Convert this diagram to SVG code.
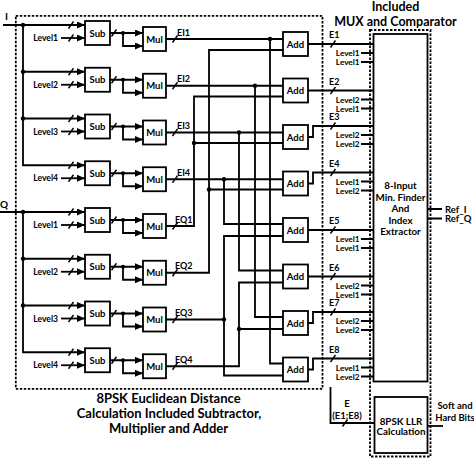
<svg xmlns="http://www.w3.org/2000/svg" width="474" height="458" viewBox="0 0 474 458">
<defs>
<style>
.ln{stroke:#000;stroke-width:1.8;fill:none}
.box{fill:#fff;stroke:#000;stroke-width:1.8}
.sl{stroke:#000;stroke-width:1.4}
.dt{fill:none;stroke:#000;stroke-width:1.8;stroke-dasharray:2.4 1.6}
.t{font-family:Lato,'Liberation Sans',sans-serif;font-weight:700;fill:#000}
.lv{font-size:8.6px;text-anchor:end}
.lr{font-size:8.2px;text-anchor:end}
.lb{font-size:9px;text-anchor:start}
.bx{font-size:9.5px;text-anchor:middle}
.big{font-size:9.8px;text-anchor:middle}
.cap{font-size:13px;text-anchor:middle}
.a{marker-end:url(#ah)}
</style>
<marker id="ah" viewBox="0 0 8 7" refX="8" refY="3.5" markerWidth="8" markerHeight="7" markerUnits="userSpaceOnUse" orient="auto"><path d="M0,0 L8,3.5 L0,7 z" fill="#000"/></marker>
</defs>
<rect width="474" height="458" fill="#fff"/>

<!-- dotted frames -->
<rect class="dt" x="15.8" y="15.8" width="306.7" height="373"/>
<rect class="dt" x="370" y="30" width="60.5" height="426.5"/>

<g id="connectors">
<!-- I bus -->
<path class="ln a" d="M3,25 H85"/>
<path class="ln a" d="M23,71.75 H85"/>
<path class="ln a" d="M23,118.5 H85"/>
<path class="ln a" d="M23,25 V165.25 H85"/>
<!-- Q bus -->
<path class="ln a" d="M0,212 H85"/>
<path class="ln a" d="M23,258.75 H85"/>
<path class="ln a" d="M23,305.5 H85"/>
<path class="ln a" d="M23,212 V352.25 H85"/>
<g fill="#000">
<circle cx="23" cy="25" r="2.2"/><circle cx="23" cy="71.75" r="2.2"/><circle cx="23" cy="118.5" r="2.2"/>
<circle cx="23" cy="212" r="2.2"/><circle cx="23" cy="258.75" r="2.2"/><circle cx="23" cy="305.5" r="2.2"/>
</g>
<!-- level inputs -->
<path class="ln a" d="M61,38 H85"/>
<path class="ln a" d="M61,84.75 H85"/>
<path class="ln a" d="M61,131.5 H85"/>
<path class="ln a" d="M61,178.25 H85"/>
<path class="ln a" d="M61,225 H85"/>
<path class="ln a" d="M61,271.75 H85"/>
<path class="ln a" d="M61,318.5 H85"/>
<path class="ln a" d="M61,365.25 H85"/>
<!-- Sub to Mul -->
<path class="ln a" d="M110,33 H143"/><path class="ln a" d="M123,33 V46 H143"/>
<path class="ln a" d="M110,79.75 H143"/><path class="ln a" d="M123,79.75 V92.75 H143"/>
<path class="ln a" d="M110,126.5 H143"/><path class="ln a" d="M123,126.5 V139.5 H143"/>
<path class="ln a" d="M110,173.25 H143"/><path class="ln a" d="M123,173.25 V186.25 H143"/>
<path class="ln a" d="M110,220 H143"/><path class="ln a" d="M123,220 V233 H143"/>
<path class="ln a" d="M110,266.75 H143"/><path class="ln a" d="M123,266.75 V279.75 H143"/>
<path class="ln a" d="M110,313.5 H143"/><path class="ln a" d="M123,313.5 V326.5 H143"/>
<path class="ln a" d="M110,360.25 H143"/><path class="ln a" d="M123,360.25 V373.25 H143"/>
<g fill="#000">
<circle cx="123" cy="33" r="2"/><circle cx="123" cy="79.75" r="2"/><circle cx="123" cy="126.5" r="2"/><circle cx="123" cy="173.25" r="2"/>
<circle cx="123" cy="220" r="2"/><circle cx="123" cy="266.75" r="2"/><circle cx="123" cy="313.5" r="2"/><circle cx="123" cy="360.25" r="2"/>
</g>
<!-- crossbar -->
<path class="ln" d="M166,39 H283"/><path class="ln" d="M270,39 V363.5 H283"/>
<path class="ln" d="M166,85.75 H283"/><path class="ln" d="M255,85.75 V317 H283"/>
<path class="ln" d="M166,132.5 H283"/><path class="ln" d="M239,132.5 V270.5 H283"/>
<path class="ln" d="M166,179.25 H283"/><path class="ln" d="M224,179.25 V224 H283"/>
<path class="ln" d="M166,226 H194 V96.5 H283"/><path class="ln" d="M194,143 H283"/>
<path class="ln" d="M166,272.75 H209 V50 H283"/><path class="ln" d="M209,189.5 H283"/>
<path class="ln" d="M166,319.5 H224"/><path class="ln" d="M283,236 H224 V375.5 H283"/>
<path class="ln" d="M166,366.25 H239 V282.5 H283"/><path class="ln" d="M239,329 H283"/>
<g fill="#000">
<circle cx="270" cy="39" r="2.2"/><circle cx="255" cy="85.75" r="2.2"/><circle cx="239" cy="132.5" r="2.2"/><circle cx="224" cy="179.25" r="2.2"/>
<circle cx="194" cy="143" r="2.2"/><circle cx="209" cy="189.5" r="2.2"/><circle cx="224" cy="319.5" r="2.2"/><circle cx="239" cy="329" r="2.2"/>
</g>
<!-- Add outputs -->
<path class="ln" d="M308,44 H373.5"/>
<path class="ln" d="M308,90.5 H373.5"/>
<path class="ln" d="M308,137 H313 V126 H373.5"/>
<path class="ln" d="M308,183.5 H313 V172.5 H373.5"/>
<path class="ln" d="M308,230 H373.5"/>
<path class="ln" d="M308,276.5 H373.5"/>
<path class="ln" d="M308,323 H313 V312 H373.5"/>
<path class="ln" d="M308,369.5 H313 V358.5 H373.5"/>
<!-- right level stubs -->
<path class="ln" d="M361,53 H373.5 M361,62 H373.5 M361,99.5 H373.5 M361,108.5 H373.5 M361,135 H373.5 M361,144 H373.5 M361,181.5 H373.5 M361,190.5 H373.5 M361,239 H373.5 M361,248 H373.5 M361,285.5 H373.5 M361,294.5 H373.5 M361,321 H373.5 M361,330 H373.5 M361,367.5 H373.5 M361,376.5 H373.5"/>
<!-- E bus to LLR -->
<path class="ln" d="M330.5,387 V423 H374.5"/>
<!-- outputs -->
<path class="ln" d="M427.5,209 H442 M427.5,218.5 H442"/>
<path class="ln" d="M428,426 H443"/>
<!-- slashes -->
<path class="sl" d="M68.5,28.5 L73.5,21.5 M68.5,41.5 L73.5,34.5 M111.5,36.5 L116.5,29.5 M172.5,42.5 L177.5,35.5
M68.5,75.25 L73.5,68.25 M68.5,88.25 L73.5,81.25 M111.5,83.25 L116.5,76.25 M172.5,89.25 L177.5,82.25
M68.5,122 L73.5,115 M68.5,135 L73.5,128 M111.5,130 L116.5,123 M172.5,136 L177.5,129
M68.5,168.75 L73.5,161.75 M68.5,181.75 L73.5,174.75 M111.5,176.75 L116.5,169.75 M172.5,182.75 L177.5,175.75
M68.5,215.5 L73.5,208.5 M68.5,228.5 L73.5,221.5 M111.5,223.5 L116.5,216.5 M172.5,229.5 L177.5,222.5
M68.5,262.25 L73.5,255.25 M68.5,275.25 L73.5,268.25 M111.5,270.25 L116.5,263.25 M172.5,276.25 L177.5,269.25
M68.5,309 L73.5,302 M68.5,322 L73.5,315 M111.5,317 L116.5,310 M172.5,323 L177.5,316
M68.5,355.75 L73.5,348.75 M68.5,368.75 L73.5,361.75 M111.5,363.75 L116.5,356.75 M172.5,369.75 L177.5,362.75
M330.5,47.5 L335.5,40.5 M330.5,94 L335.5,87 M330.5,129.5 L335.5,122.5 M330.5,176 L335.5,169 M330.5,233.5 L335.5,226.5 M330.5,280 L335.5,273 M330.5,315.5 L335.5,308.5 M330.5,362 L335.5,355
M342.5,426.5 L347.5,419.5"/>
</g>

<!-- labels -->
<g class="t">
<text x="5" y="20" font-size="10">I</text>
<text x="0" y="208" font-size="10">Q</text>
<g class="lv">
<text x="58" y="41">Level1</text><text x="58" y="87.75">Level2</text><text x="58" y="134.5">Level3</text><text x="58" y="181.25">Level4</text>
<text x="58" y="228">Level1</text><text x="58" y="274.75">Level2</text><text x="58" y="321.5">Level3</text><text x="58" y="368.25">Level4</text>
</g>
<g class="lb">
<text x="177" y="35.5">EI1</text><text x="177" y="82.25">EI2</text><text x="177" y="129">EI3</text><text x="177" y="175.75">EI4</text>
<text x="175" y="222.5">EQ1</text><text x="175" y="269.25">EQ2</text><text x="175" y="316">EQ3</text><text x="175" y="362.75">EQ4</text>
<text x="329" y="38">E1</text><text x="329" y="84.5">E2</text><text x="329" y="120">E3</text><text x="329" y="166.5">E4</text>
<text x="329" y="224">E5</text><text x="329" y="270.5">E6</text><text x="329" y="306">E7</text><text x="329" y="352.5">E8</text>
</g>
<g class="lr">
<text x="359.5" y="56">Level1</text><text x="359.5" y="65">Level1</text>
<text x="359.5" y="102.5">Level2</text><text x="359.5" y="111.5">Level1</text>
<text x="359.5" y="138">Level2</text><text x="359.5" y="147">Level2</text>
<text x="359.5" y="184.5">Level1</text><text x="359.5" y="193.5">Level2</text>
<text x="359.5" y="242">Level1</text><text x="359.5" y="251">Level1</text>
<text x="359.5" y="288.5">Level2</text><text x="359.5" y="297.5">Level1</text>
<text x="359.5" y="324">Level2</text><text x="359.5" y="333">Level2</text>
<text x="359.5" y="370.5">Level1</text><text x="359.5" y="379.5">Level2</text>
</g>
<text x="347" y="406.5" font-size="9.5" text-anchor="middle">E</text>
<text x="347" y="418.5" font-size="9.5" text-anchor="middle">(E1:E8)</text>
<text x="445" y="212.5" font-size="9.5">Ref_I</text>
<text x="445" y="222" font-size="9.5">Ref_Q</text>
<text x="455" y="409" font-size="9.5" text-anchor="middle">Soft and</text>
<text x="455" y="421" font-size="9.5" text-anchor="middle">Hard Bits</text>
<text x="395.5" y="11" font-size="12.5" text-anchor="middle">Included</text>
<text x="395.5" y="25.5" font-size="12.5" text-anchor="middle">MUX and Comparator</text>
<g class="cap">
<text x="168.5" y="402.5">8PSK Euclidean Distance</text>
<text x="169" y="417.5">Calculation Included Subtractor,</text>
<text x="168.5" y="433">Multiplier and Adder</text>
</g>
</g>

<!-- nodes -->
<g id="sub1"><rect class="box" x="85" y="21" width="25" height="24"/><text class="t bx" x="97.5" y="36.5">Sub</text></g>
<g id="sub2"><rect class="box" x="85" y="67.75" width="25" height="24"/><text class="t bx" x="97.5" y="83.25">Sub</text></g>
<g id="sub3"><rect class="box" x="85" y="114.5" width="25" height="24"/><text class="t bx" x="97.5" y="130">Sub</text></g>
<g id="sub4"><rect class="box" x="85" y="161.25" width="25" height="24"/><text class="t bx" x="97.5" y="176.75">Sub</text></g>
<g id="sub5"><rect class="box" x="85" y="208" width="25" height="24"/><text class="t bx" x="97.5" y="223.5">Sub</text></g>
<g id="sub6"><rect class="box" x="85" y="254.75" width="25" height="24"/><text class="t bx" x="97.5" y="270.25">Sub</text></g>
<g id="sub7"><rect class="box" x="85" y="301.5" width="25" height="24"/><text class="t bx" x="97.5" y="317">Sub</text></g>
<g id="sub8"><rect class="box" x="85" y="348.25" width="25" height="24"/><text class="t bx" x="97.5" y="363.75">Sub</text></g>

<g id="mul1"><rect class="box" x="143" y="27" width="23" height="24"/><text class="t bx" x="154.5" y="42.5">Mul</text></g>
<g id="mul2"><rect class="box" x="143" y="73.75" width="23" height="24"/><text class="t bx" x="154.5" y="89.25">Mul</text></g>
<g id="mul3"><rect class="box" x="143" y="120.5" width="23" height="24"/><text class="t bx" x="154.5" y="136">Mul</text></g>
<g id="mul4"><rect class="box" x="143" y="167.25" width="23" height="24"/><text class="t bx" x="154.5" y="182.75">Mul</text></g>
<g id="mul5"><rect class="box" x="143" y="214" width="23" height="24"/><text class="t bx" x="154.5" y="229.5">Mul</text></g>
<g id="mul6"><rect class="box" x="143" y="260.75" width="23" height="24"/><text class="t bx" x="154.5" y="276.25">Mul</text></g>
<g id="mul7"><rect class="box" x="143" y="307.5" width="23" height="24"/><text class="t bx" x="154.5" y="323">Mul</text></g>
<g id="mul8"><rect class="box" x="143" y="354.25" width="23" height="24"/><text class="t bx" x="154.5" y="369.75">Mul</text></g>

<g id="add1"><rect class="box" x="283" y="32" width="25" height="24"/><text class="t bx" x="295.5" y="47.5">Add</text></g>
<g id="add2"><rect class="box" x="283" y="78.5" width="25" height="24"/><text class="t bx" x="295.5" y="94">Add</text></g>
<g id="add3"><rect class="box" x="283" y="125" width="25" height="24"/><text class="t bx" x="295.5" y="140.5">Add</text></g>
<g id="add4"><rect class="box" x="283" y="171.5" width="25" height="24"/><text class="t bx" x="295.5" y="187">Add</text></g>
<g id="add5"><rect class="box" x="283" y="218" width="25" height="24"/><text class="t bx" x="295.5" y="233.5">Add</text></g>
<g id="add6"><rect class="box" x="283" y="264.5" width="25" height="24"/><text class="t bx" x="295.5" y="280">Add</text></g>
<g id="add7"><rect class="box" x="283" y="311" width="25" height="24"/><text class="t bx" x="295.5" y="326.5">Add</text></g>
<g id="add8"><rect class="box" x="283" y="357.5" width="25" height="24"/><text class="t bx" x="295.5" y="373">Add</text></g>

<g id="minfinder"><rect class="box" x="373.5" y="34" width="54" height="347.5"/>
<g class="t big"><text x="400.5" y="189">8-Input</text><text x="400.5" y="200.5">Min. Finder</text><text x="400.5" y="212">And</text><text x="400.5" y="223.5">Index</text><text x="400.5" y="235">Extractor</text></g></g>
<g id="llr"><rect class="box" x="374.5" y="397" width="53" height="56"/>
<g class="t big"><text x="401" y="424.5">8PSK LLR</text><text x="401" y="435">Calculation</text></g></g>
</svg>
